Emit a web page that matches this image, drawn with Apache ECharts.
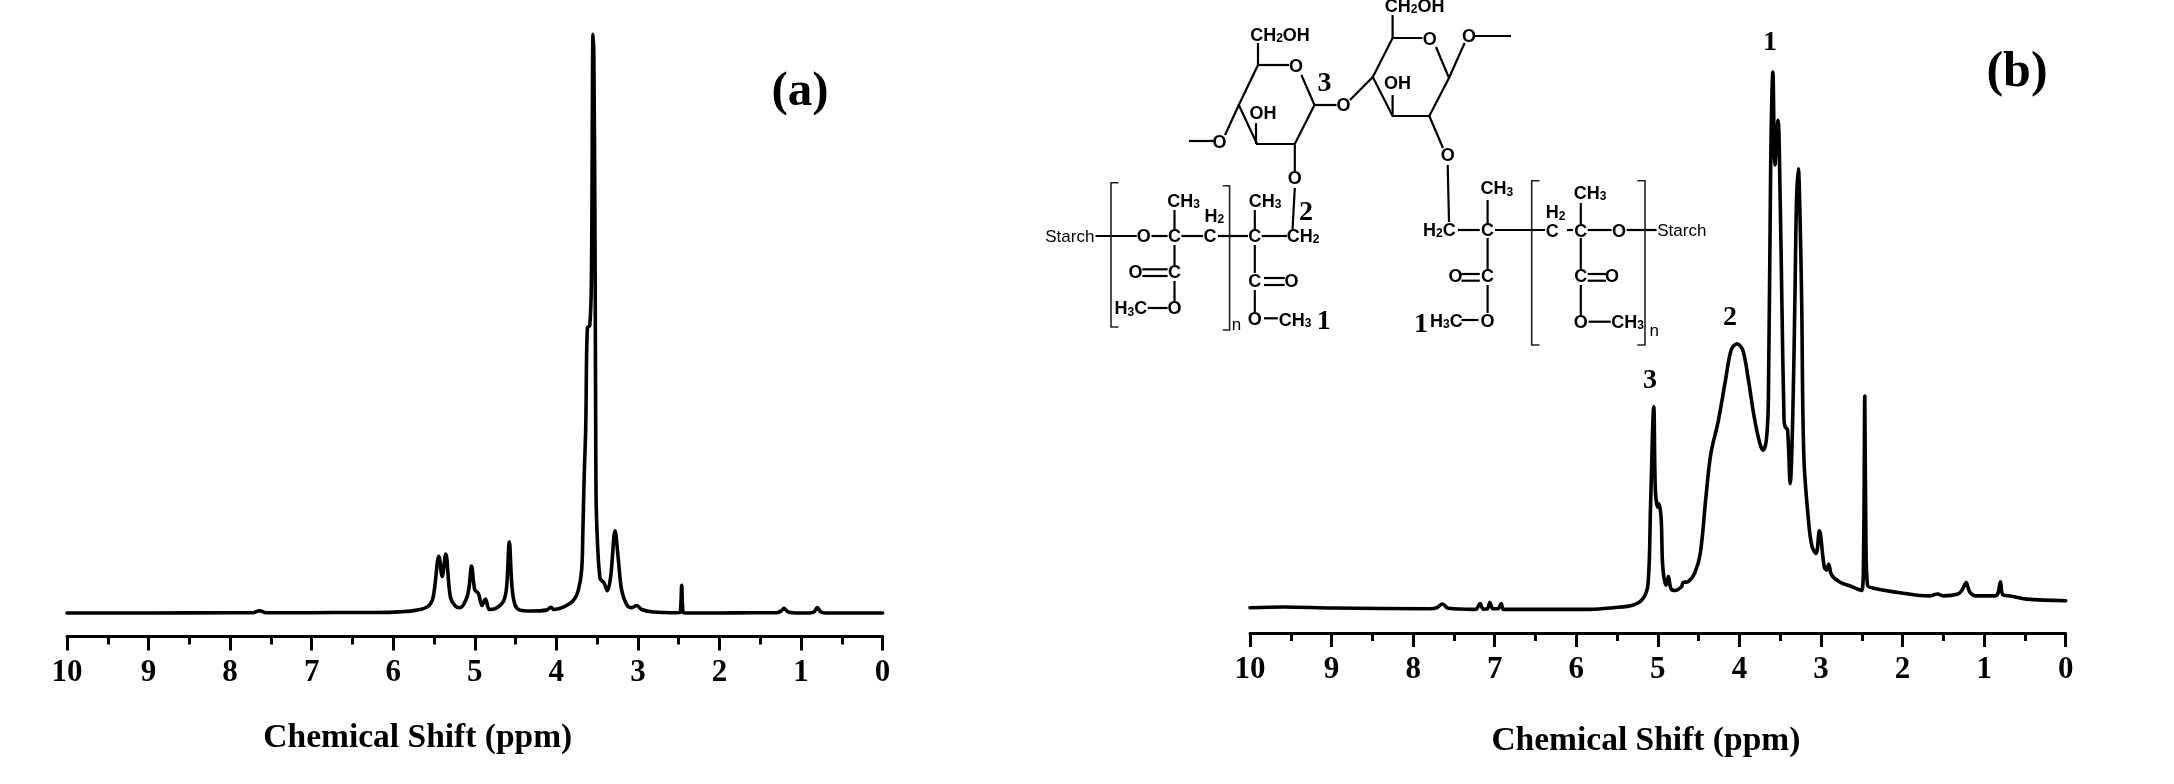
<!DOCTYPE html>
<html><head><meta charset="utf-8">
<style>html,body{margin:0;padding:0;background:#fff}#c{width:2174px;height:784px}</style>
<script src="https://cdn.jsdelivr.net/npm/echarts@6/dist/echarts.min.js"></script>
</head><body><div id="c"></div>
<script>
// Values: chemical shift (ppm) and relative intensity
const shiftA = [10,9,8,7.72,7.64,7.56,7,6.5,6.2,5.92,5.71,5.57,5.51,5.44,5.40,5.357,5.30,5.24,5.18,5.10,5.07,5.04,5.0,4.957,4.91,4.87,4.82,4.75,4.65,4.61,4.577,4.544,4.507,4.446,4.32,4.12,4.065,4.03,3.915,3.79,3.73,3.69,3.675,3.66,3.64,3.62,3.59,3.57,3.55,3.54,3.525,3.515,3.505,3.465,3.416,3.375,3.334,3.28,3.24,3.2,3.14,3.076,3.015,2.954,2.81,2.505,2.48,2.463,2.447,2.42,2.0,1.6,1.3,1.24,1.21,1.17,1.1,0.9,0.84,0.8,0.76,0.7,0.5,0];
const intensityA = [0,0,0.05,0.05,0.4,0.05,0.05,0.1,0.1,0.2,0.5,1.2,2.8,9.8,6.3,10.2,2.8,1.2,0.9,2.6,4.5,8.1,4.0,3.4,1.3,2.4,0.6,0.75,2.0,4.5,12.3,4.5,1.4,0.5,0.35,0.5,1.0,0.6,1.0,2.2,4.0,7.4,14,23,32,49.3,49.7,58,100,96,61,23,15.5,6,5.2,3.85,6.3,14.2,9.2,4.0,1.5,0.9,1.3,0.6,0.17,0.05,0.2,4.8,0.2,0,0,0.05,0.05,0.4,0.8,0.3,0.05,0,0.2,0.95,0.2,0,0,0];

const shiftB = [10,9.59,8.99,7.8,7.71,7.64,7.57,7.25,7.22,7.18,7.14,7.09,7.06,7.02,6.96,6.92,6.89,6.39,5.83,5.55,5.30,5.18,5.12,5.09,5.05,5.03,5.0,4.99,4.96,4.94,4.90,4.87,4.84,4.79,4.71,4.69,4.63,4.55,4.48,4.41,4.35,4.26,4.17,4.10,4.03,3.96,3.89,3.82,3.75,3.71,3.67,3.645,3.617,3.59,3.564,3.527,3.50,3.48,3.453,3.44,3.41,3.378,3.347,3.32,3.30,3.278,3.257,3.237,3.21,3.15,3.11,3.06,3.02,2.96,2.93,2.906,2.87,2.77,2.62,2.50,2.477,2.463,2.449,2.43,2.34,2.03,1.675,1.57,1.5,1.32,1.27,1.22,1.18,1.11,0.87,0.83,0.80,0.77,0.68,0.48,0];
const intensityB = [0.3,0.45,0.25,0.12,0.3,1.0,0.2,0,0.1,1.1,0.05,0.1,1.25,0.1,0.1,1.1,0,0,0,0.3,0.8,2.05,4.8,19,37.7,22,19,19.7,17,8,4.5,6.1,3.9,3.5,4.2,5,5.15,6.7,10.4,21,29,35,42.7,48.3,49.4,48.3,42.7,35.9,30.9,29.6,31.5,38.9,82.4,100,82.7,91,76,57.6,35.2,34,33.4,23.4,35.2,57.6,76,82,73,57.6,28.4,16,11.7,10.4,14.6,7.9,7.3,8.4,6.4,5.1,4.2,3.5,12,39.7,12.9,4.5,3.9,3.1,2.5,2.85,2.5,2.85,3.6,5,3.3,2.5,2.5,3,5.15,2.7,2.5,1.9,1.6];

const tickLabels = ['0','1','2','3','4','5','6','7','8','9','10'];
const axisTitle = 'Chemical Shift (ppm)';
const panelLabels = ['(a)','(b)'];
const peakLabels = ['1','2','3'];

const SERIF = '"Liberation Serif","Times New Roman",serif';
const SANS = '"Liberation Sans",Arial,sans-serif';

// Scheme of the grafted starch: bonds as polylines, atoms as text
const bonds = [
 [[1258,65],[1289,65]],[[1258,65],[1238.8,105],[1257,144],[1294.8,144],[1314.5,105],[1301.4,75]],
 [[1258,65],[1258,43]],[[1314.5,105],[1336.5,105]],[[1238.8,105],[1225,135]],[[1213.5,141],[1189,141]],
 [[1256,144],[1256,123]],[[1294.8,144],[1294.8,172]],[[1294.8,188],[1292.5,230]],
 [[1350,100],[1372.8,77]],
 [[1422.4,38],[1392.6,38],[1372.8,77],[1392.6,116],[1429.3,116],[1449,78],[1436,47]],
 [[1392.6,38],[1392.6,15]],[[1392.6,116],[1392.6,95]],[[1449,78],[1464.6,43]],[[1475,36],[1511,36]],
 [[1429.3,116],[1443,148]],[[1447.7,165],[1449,222]],
 [[1095.5,236],[1136.8,236]],[[1151.5,236],[1167.6,236]],[[1181.4,236],[1203,236]],[[1218,236],[1248,236]],[[1261.7,236],[1287,236]],
 [[1174.5,210],[1174.5,230]],[[1174.5,245],[1174.5,265]],[[1174.5,281],[1174.5,302]],
 [[1142.3,269.3],[1167.6,269.3]],[[1142.3,276],[1167.6,276]],[[1147.8,308],[1167.6,308]],
 [[1254.8,210],[1254.8,230]],[[1254.8,245],[1254.8,273]],[[1254.8,290],[1254.8,312]],
 [[1264,278],[1284.7,278]],[[1264,285],[1284.7,285]],[[1264,318.3],[1277.8,318.3]],
 [[1458,230],[1479.8,230]],[[1495,230],[1545,230]],
 [[1487.6,200],[1487.6,224]],[[1487.6,238],[1487.6,270]],[[1487.6,285],[1487.6,313]],
 [[1461.4,274],[1479.8,274]],[[1461.4,280.7],[1479.8,280.7]],[[1461.4,320],[1478.4,320]],
 [[1567,230],[1573,230]],[[1587.7,230],[1611.6,230]],[[1626.7,230],[1656.6,230]],
 [[1580.8,203],[1580.8,224]],[[1580.8,238],[1580.8,270]],[[1580.8,285],[1580.8,315]],
 [[1587.7,274],[1606,274]],[[1587.7,280.7],[1606,280.7]],[[1588.6,321.7],[1610.7,321.7]]
];
const brackets = [
 [[1118.5,182.7],[1111,182.7],[1111,327],[1118.5,327]],
 [[1222.7,185.7],[1229.6,185.7],[1229.6,330],[1222.7,330]],
 [[1539.5,180.7],[1531.7,180.7],[1531.7,345],[1539.5,345]],
 [[1637.3,180.7],[1645,180.7],[1645,345],[1637.3,345]]
];
const atoms = [
 ['CH_2_OH',1280,36],['O',1296,66.7],['O',1343.4,106],['OH',1263,114],['O',1219.5,142.7],['O',1294.8,179.3],
 ['CH_3_',1183.7,201.7],['H_2_',1214.4,216.7],['CH_3_',1265,201.7],
 ['O',1143.7,237],['C',1174.5,237],['C',1210,237],['C',1254.8,237],['CH_2_',1303,237],
 ['O',1135.4,272.7],['C',1174.5,272.7],['C',1254.8,281.7],['O',1291.5,281.7],
 ['H_3_C',1130.9,309.3],['O',1174.5,309.3],['O',1254.8,320],['CH_3_',1295,321],
 ['CH_2_OH',1414.6,6.7],['O',1429.8,40],['O',1469,37.3],['OH',1397.6,84.3],['O',1447.7,156],
 ['H_2_C',1439.4,231],['C',1487.6,231],['CH_3_',1496.8,189.3],['H_2_',1555.5,213.3],['C',1552.3,231.7],['C',1580.8,231.7],['CH_3_',1590,194],
 ['O',1619,231.7],['O',1455.5,277.3],['C',1487.6,277.3],['C',1580.8,277.3],['O',1612,277.3],
 ['H_3_C',1446.3,321.7],['O',1487.6,321.7],['O',1580.8,322.7],['CH_3_',1627.6,323]
];
const plainText = [['Starch',1069.8,237],['Starch',1681.8,231.7],['n',1236.5,325],['n',1654.3,331.7]];
const numberText = [['3',1324.6,84],['2',1306,213],['1',1323.7,321.7],['1',1421,325],
 [peakLabels[0],1770,42.7],[peakLabels[1],1730,318],[peakLabels[2],1650,380.7]];
const panelText = [[panelLabels[0],800,92.5,49],[panelLabels[1],2017,73,50]];

function markup(s){
  return s.split('_').map((p,i)=>p===''?'':(i%2?'{s|'+p+'}':'{n|'+p+'}')).join('');
}
const gfx = [];
bonds.forEach(p=>gfx.push({type:'polyline',shape:{points:p},style:{stroke:'#000',lineWidth:2.2,fill:null},silent:true}));
brackets.forEach(p=>gfx.push({type:'polyline',shape:{points:p},style:{stroke:'#222',lineWidth:1.6,fill:null},silent:true}));
atoms.forEach(a=>gfx.push({type:'text',x:a[1],y:a[2],silent:true,style:{
  text:markup(a[0]),align:'center',verticalAlign:'middle',
  rich:{n:{fontFamily:SANS,fontWeight:'bold',fontSize:18,lineHeight:18,fill:'#000'},
        s:{fontFamily:SANS,fontWeight:'bold',fontSize:12,lineHeight:11,verticalAlign:'bottom',padding:[7,0,0,0],fill:'#000'}}}}));
plainText.forEach(a=>gfx.push({type:'text',x:a[1],y:a[2],silent:true,style:{text:a[0],align:'center',verticalAlign:'middle',fontFamily:SANS,fontSize:17,fill:'#000'}}));
numberText.forEach(a=>gfx.push({type:'text',x:a[1],y:a[2],silent:true,style:{text:a[0],align:'center',verticalAlign:'middle',fontFamily:SERIF,fontWeight:'bold',fontSize:28,fill:'#000'}}));
panelText.forEach(a=>gfx.push({type:'text',x:a[1],y:a[2],silent:true,style:{text:a[0],align:'center',verticalAlign:'middle',fontFamily:SERIF,fontWeight:'bold',fontSize:a[3],fill:'#000'}}));

function xAxis(idx, namePad, gap){
  return {type:'value',gridIndex:idx,min:0,max:10,interval:1,inverse:true,
    name:axisTitle,nameLocation:'middle',nameGap:gap,
    nameTextStyle:{fontFamily:SERIF,fontWeight:'bold',fontSize:33.5,color:'#000',padding:namePad},
    axisLine:{show:true,onZero:false,lineStyle:{color:'#000',width:3}},
    axisTick:{show:true,length:14,lineStyle:{color:'#000',width:3}},
    minorTick:{show:true,splitNumber:2,length:8,lineStyle:{color:'#000',width:3}},
    splitLine:{show:false},minorSplitLine:{show:false},
    axisLabel:{margin:21,fontFamily:SERIF,fontWeight:'bold',fontSize:31,color:'#000',
      formatter:v=>tickLabels[Math.round(v)]}};
}
function yAxis(idx,min){return {type:'value',gridIndex:idx,min:min,max:100,show:false};}
function line(idx,xs,ys,w){
  return {type:'line',xAxisIndex:idx,yAxisIndex:idx,data:xs.map((x,i)=>[x,ys[i]]),showSymbol:false,
    smooth:0.35,clip:false,lineStyle:{color:'#000',width:w,join:'round',cap:'round'},silent:true,animation:false};
}
const chart = echarts.init(document.getElementById('c'),null,{renderer:'canvas'});
chart.setOption({
  animation:false,backgroundColor:'#fff',
  grid:[{left:67,width:815.6,top:34.3,height:602.2},{left:1250,width:815.7,top:72,height:561}],
  xAxis:[xAxis(0,[0,114,0,0],85),xAxis(1,[0,24,0,0],91)],
  yAxis:[yAxis(0,-4.06),yAxis(1,-4.4)],
  series:[line(0,shiftA,intensityA,3.6),line(1,shiftB,intensityB,3.6)],
  graphic:{elements:gfx}
});
</script></body></html>
